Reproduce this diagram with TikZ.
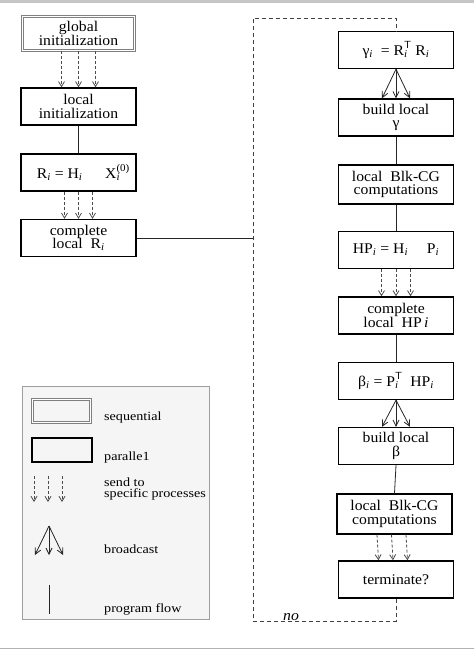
\documentclass[tikz,border=0pt]{standalone}
\usepackage{fontspec}
\setmainfont[FakeStretch=1.06]{Liberation Serif}
\newfontfamily\legfont[FakeStretch=1.13]{Liberation Serif}
\usetikzlibrary{arrows.meta,calc}
\newcommand{\sbi}{\textsubscript{\itshape i}}
\newcommand{\sbsp}[2]{\rlap{\raisebox{1pt}{\textsuperscript{#2}}}\textsubscript{\itshape #1}}
\newcommand{\supT}{\rlap{\raisebox{1pt}{\textsuperscript{\textsf{T}}}}\textsubscript{\itshape i}}
\tikzset{
  parbox/.style={draw=black, line width=1.4pt, minimum width=115pt, minimum height=37pt,
    inner sep=0pt, align=center, font=\fontsize{14.8}{13.5}\selectfont},
  seqbox/.style={draw=gray, double=white, double distance=1.6pt, line width=0.8pt,
    minimum width=112pt, minimum height=34pt, inner sep=0pt, align=center,
    font=\fontsize{14.8}{13.5}\selectfont},
  flow/.style={draw=black!85, line width=0.8pt},
  sendarr/.style={draw=black!70, line width=0.8pt, dash pattern=on 3pt off 2pt,
    -{Straight Barb[length=5pt,width=6pt,line width=0.8pt]}},
  bcast/.style={draw=black!85, line width=0.8pt,
    -{Straight Barb[length=6pt,width=6pt,line width=0.8pt]}},
  loopdash/.style={draw=black!75, line width=0.9pt, dash pattern=on 4pt off 3pt},
  legtext/.style={anchor=base west, inner sep=0pt, align=left,
    font=\legfont\fontsize{12.5}{11.4}\selectfont},
}
\begin{document}
\begin{tikzpicture}[x=1pt,y=-1pt]
\useasboundingbox (0,0) rectangle (474,649);
\fill[gray!45] (0,0) rectangle (474,2.5);
\draw[gray!60, line width=0.6pt] (0,648.2) -- (474,648.2);

% left column
\node[seqbox] (gi) at (78.5,33.5) {global\\initialization};
\node[parbox] (li) at (78.5,106.5) {local\\initialization};
\node[parbox] (ri) at (78.5,172.5) {R\sbi\ = H\sbi\quad\ \ X\sbsp{i}{(0)}};
\node[parbox] (cr) at (78.5,238) {complete\\local\ \ R\sbi};

\foreach \d in {-17,0,17}
  \draw[sendarr] ([xshift=\d]gi.south) -- ([xshift=\d]li.north);
\draw[flow] (li.south) -- (ri.north);
\foreach \d in {-14,0,14}
  \draw[sendarr] ([xshift=\d]ri.south) -- ([xshift=\d]cr.north);

% right column
\node[parbox] (gam) at (396,50) {γ\sbi\ \ = R\supT\ \ R\sbi};
\node[parbox] (bg) at (396,117.5) {build local\\γ};
\node[parbox, minimum height=39pt] (cg1) at (396,184.5) {local\ \ Blk-CG\\computations};
\node[parbox] (hp) at (396,250) {HP\sbi\ = H\sbi\quad\ P\sbi};
\node[parbox] (chp) at (396,315.5) {complete\\local\ \ HP\,\textit{i}};
\node[parbox] (bet) at (396,381) {β\sbi\ = P\supT\ \ \ HP\sbi};
\node[parbox] (bb) at (396,446) {build local\\β};
\node[parbox, minimum height=40pt] (cg2) at (394.5,514) {local\ \ Blk-CG\\computations};
\node[parbox] (term) at (396,579.5) {terminate?};

\foreach \d in {-14,0,14}
  \draw[bcast] (gam.south) -- ([xshift=\d]bg.north);
\draw[flow] (bg.south) -- (cg1.north);
\draw[flow] (cg1.south) -- (hp.north);
\foreach \d in {-14.5,0,14.5}
  \draw[sendarr] ([xshift=\d]hp.south) -- ([xshift=\d]chp.north);
\draw[flow] (chp.south) -- (bet.north);
\foreach \d in {-14,0,14}
  \draw[bcast] (bet.south) -- ([xshift=\d]bb.north);
\draw[flow] (bb.south) -- (cg2.north);
\foreach \d in {-17.5,-3,11.5}
  \draw[sendarr] ([xshift=\d]cg2.south) -- ([xshift=\d]term.north);

% loop
\coordinate (lbr) at (396,621);
\coordinate (lbl) at (253,621);
\coordinate (ltl) at (253,18);
\coordinate (ltr) at (396,18);
\coordinate (join) at (253,238);
\draw[loopdash] (term.south) -- (lbr) -- (lbl) -- (ltl) -- (ltr) -- (gam.north);
\draw[flow] (cr.east) -- (join);
\node[anchor=base, inner sep=0pt, font=\itshape\fontsize{14.8}{14}\selectfont] (no) at (291,620) {no};

% legend
\draw[draw=gray!75, fill=gray!8, line width=0.8pt] (22,386) rectangle (209,619);
\draw[draw=gray, double=white, double distance=1.6pt, line width=0.8pt] (32.5,399.5) rectangle (90.5,422.5);
\draw[draw=black, line width=1.4pt] (32,438) rectangle (92,462);
\foreach \x in {34,48,62}
  \draw[sendarr] (\x,476) -- (\x,502);
\foreach \x in {35,49,63}
  \draw[bcast] (49,526) -- (\x,555);
\draw[flow] (49,585) -- (49,614);
\node[legtext] (l1) at (104,420) {sequential};
\node[legtext] (l2) at (104,460) {paralle1};
\node[legtext] (l3) at (104,497.7) {send to\\specific processes};
\node[legtext] (l4) at (104,553) {broadcast};
\node[legtext] (l5) at (104,612) {program flow};
\end{tikzpicture}
\end{document}
